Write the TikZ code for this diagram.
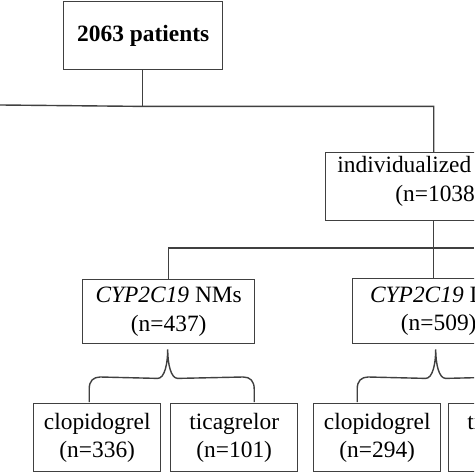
\documentclass[tikz,border=0pt]{standalone}
\usepackage{fontspec}
\setmainfont{Liberation Serif}
\usetikzlibrary{calc,positioning}
\definecolor{linegray}{HTML}{404040}
\tikzset{box/.style={draw=linegray, line width=0.7pt, inner sep=0pt, align=center, anchor=north west},
  line/.style={draw=linegray, line width=0.7pt}}

\begin{document}
\begin{tikzpicture}[x=0.5pt, y=-0.5pt, font=\fontsize{11.7}{14.2}\selectfont]
\path[use as bounding box, clip] (0,0) rectangle (474,474);
\fill [white] (0,0) rectangle (474,474);
% boxes
\node[box, minimum width=79.5pt, minimum height=34pt, font=\fontsize{11.7}{14.2}\selectfont\bfseries] (all) at (63,1) {2063 patients};
\node[box, minimum width=113pt, minimum height=34pt] (ind) at (325,152) {};
\node[anchor=base west, inner sep=0pt] (indtxt) at (337,173) {individualized};
\node[anchor=base, inner sep=0pt] (indnum) at (439,202) {(n=1038)};
\node[box, minimum width=86pt, minimum height=32pt] (nms) at (82,279) {\textit{CYP2C19} NMs\\(n=437)};
\node[box, minimum width=86pt, minimum height=32.5pt] (ims) at (352,278) {\textit{CYP2C19} IMs\\(n=509)};
\node[box, minimum width=63.5pt, minimum height=34pt] (clo1) at (33,403) {clopidogrel\\(n=336)};
\node[box, minimum width=63.5pt, minimum height=34pt] (tic1) at (170,403) {ticagrelor\\(n=101)};
\node[box, minimum width=63.5pt, minimum height=34pt] (clo2) at (313,403) {clopidogrel\\(n=294)};
\node[box, minimum width=63.5pt, minimum height=34pt] (tic2) at (448,403) {ticagrelor\\(n=215)};
% tree lines
\coordinate (split1) at ($(all.south)+(-1,36)$);
\coordinate (left1) at (0,105);
\coordinate (indtop) at ($(ind.north)+(-5,0)$);
\coordinate (indbot) at ($(ind.south)+(-5,0)$);
\coordinate (right2) at (474,248);
\draw[line] ($(all.south)+(-1,0)$) -- (split1);
\draw[line] (left1) -- (split1) -| (indtop);
\draw[line] (indbot) -- ($(ims.north)+(-5,0)$);
\draw[line] (nms.north) |- (right2);
% braces
\coordinate (b1tip) at ($(nms.south)+(-1,5)$);
\coordinate (b1l) at ($(clo1.north)+(-8,-1)$);
\coordinate (b1r) at ($(tic1.north)+(20,-1)$);
\coordinate (b2tip) at ($(ims.south)+(-3,5)$);
\coordinate (b2l) at ($(clo2.north)+(-20,-1)$);
\coordinate (b2r) at ($(tic2.north)+(2,-1)$);
\draw[line] (b1l) -- ($(b1l)+(0,-13)$) .. controls +(0,-8) and +(-7,0) .. ($(b1l)+(11,-25)$)
  -- ($(b1tip)+(-10,29)$) .. controls +(7,0) and +(0,14) .. (b1tip)
  .. controls +(0,14) and +(-7,0) .. ($(b1tip)+(10,29)$)
  -- ($(b1r)+(-11,-25)$) .. controls +(7,0) and +(0,-8) .. ($(b1r)+(0,-13)$) -- (b1r);
\draw[line] (b2l) -- ($(b2l)+(0,-13)$) .. controls +(0,-8) and +(-7,0) .. ($(b2l)+(11,-25)$)
  -- ($(b2tip)+(-10,29)$) .. controls +(7,0) and +(0,14) .. (b2tip)
  .. controls +(0,14) and +(-7,0) .. ($(b2tip)+(10,29)$)
  -- ($(b2r)+(-11,-25)$) .. controls +(7,0) and +(0,-8) .. ($(b2r)+(0,-13)$) -- (b2r);
\end{tikzpicture}
\end{document}
